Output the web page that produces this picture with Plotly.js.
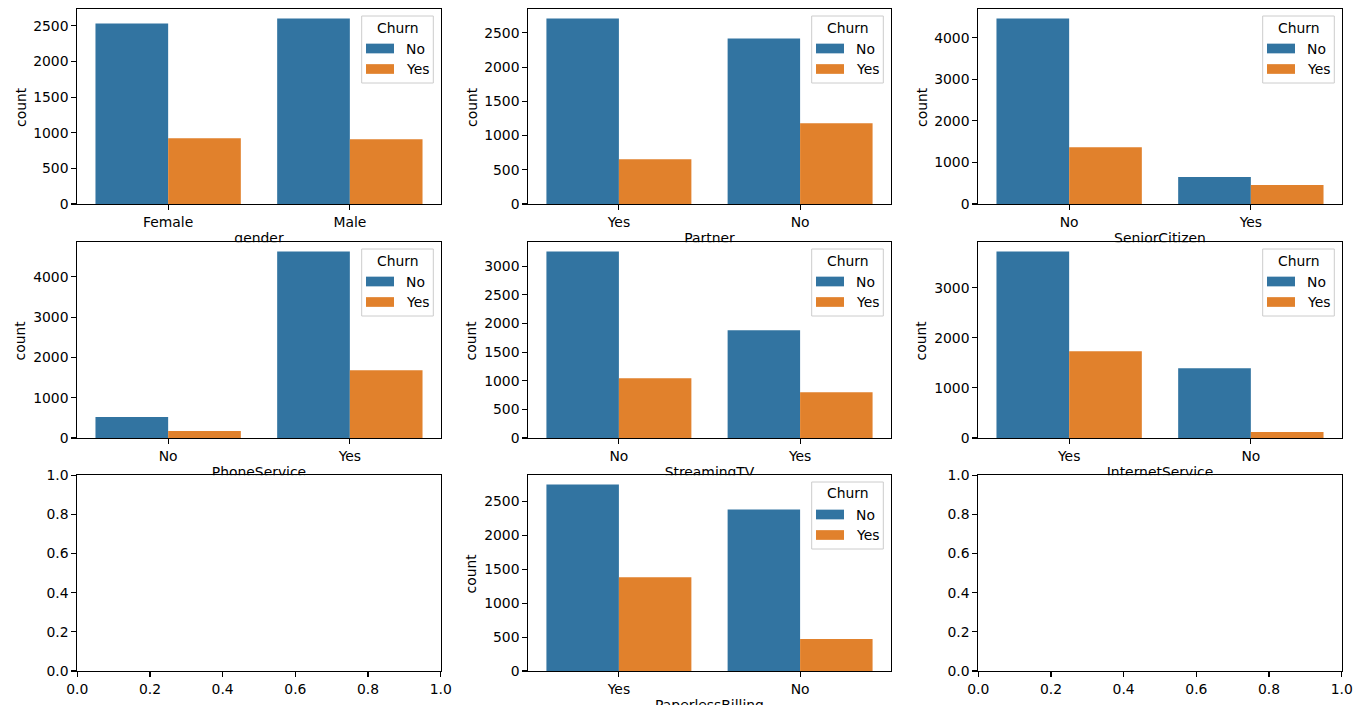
<!DOCTYPE html>
<html><head><meta charset="utf-8">
<script src="https://cdn.plot.ly/plotly-3.0.1.min.js"></script>
<style>html,body{margin:0;padding:0;background:#fff;} #chart{width:1366px;height:705px;}</style>
</head><body><div id="chart"></div>
<script>
// ---- data ----
const hueLabels = ["No", "Yes"];
const legendTitle = "Churn";
const yLabel = "count";

const genderCats = ["Female", "Male"];
const genderNo = [2533, 2603];
const genderYes = [924, 909];

const partnerCats = ["Yes", "No"];
const partnerNo = [2709, 2417];
const partnerYes = [655, 1180];

const seniorCats = ["No", "Yes"];
const seniorNo = [4464, 648];
const seniorYes = [1368, 456];

const phoneCats = ["No", "Yes"];
const phoneNo = [520, 4627];
const phoneYes = [173, 1682];

const streamCats = ["No", "Yes"];
const streamNo = [3255, 1880];
const streamYes = [1044, 801];

const internetCats = ["Yes", "No"];
const internetNo = [3723, 1394];
const internetYes = [1732, 119];

const paperCats = ["Yes", "No"];
const paperNo = [2750, 2382];
const paperYes = [1382, 471];

const emptyTicks = [0, 0.2, 0.4, 0.6, 0.8, 1.0];

// ---- layout geometry (pixels) ----
const W = 1366, H = 705;
const colLeft = [77.3, 528.3, 978.3], colRight = [440.7, 890.7, 1341.7];
const rowTop = [9.3, 242.3, 475.3], rowBottom = [204, 438, 671];
const px2x = p => p / W;
const px2y = p => 1 - p / H;
const FONT = "DejaVu Sans";
const FS = 13.9;
const colors = ["#3274a1", "#e1812c"];

const panels = [
  {row:0, col:0, cats:genderCats, no:genderNo, yes:genderYes, label:"gender", dtick:500},
  {row:0, col:1, cats:partnerCats, no:partnerNo, yes:partnerYes, label:"Partner", dtick:500},
  {row:0, col:2, cats:seniorCats, no:seniorNo, yes:seniorYes, label:"SeniorCitizen", dtick:1000},
  {row:1, col:0, cats:phoneCats, no:phoneNo, yes:phoneYes, label:"PhoneService", dtick:1000},
  {row:1, col:1, cats:streamCats, no:streamNo, yes:streamYes, label:"StreamingTV", dtick:500},
  {row:1, col:2, cats:internetCats, no:internetNo, yes:internetYes, label:"InternetService", dtick:1000},
  {row:2, col:0, empty:true},
  {row:2, col:1, cats:paperCats, no:paperNo, yes:paperYes, label:"PaperlessBilling", dtick:500},
  {row:2, col:2, empty:true}
];

const axisBase = {
  showline:true, linecolor:"#000", linewidth:1.1, mirror:true,
  ticks:"outside", ticklen:4.9, tickwidth:1.1, tickcolor:"#000",
  showgrid:false, zeroline:false, fixedrange:true,
  tickfont:{family:FONT, size:FS, color:"#000"}
};

const traces = [];
const layout = {
  width:W, height:H, margin:{l:0, r:0, t:0, b:0, pad:0},
  paper_bgcolor:"#fff", plot_bgcolor:"#fff",
  showlegend:false, barmode:"group", bargap:0.2, bargroupgap:0,
  font:{family:FONT, size:FS, color:"#000"},
  shapes:[], annotations:[]
};

panels.forEach((p, idx) => {
  const n = idx + 1;
  const L = colLeft[p.col], R = colRight[p.col], T = rowTop[p.row], B = rowBottom[p.row];
  const xd = [px2x(L), px2x(R)], yd = [px2y(B), px2y(T)];
  const xk = "xaxis" + n, yk = "yaxis" + n;
  if (p.empty) {
    layout[xk] = Object.assign({}, axisBase, {domain:xd, anchor:"y"+n, range:[0,1], tickvals:emptyTicks, tickformat:".1f"});
    layout[yk] = Object.assign({}, axisBase, {domain:yd, anchor:"x"+n, range:[0,1], tickvals:emptyTicks, tickformat:".1f"});
    // invisible trace to create the subplot
    traces.push({type:"scatter", x:[], y:[], xaxis:"x"+n, yaxis:"y"+n, hoverinfo:"skip"});
    return;
  }
  const ymax = Math.max(...p.no, ...p.yes) * 1.05;
  layout[xk] = Object.assign({}, axisBase, {domain:xd, anchor:"y"+n, type:"category", range:[-0.5, 1.5]});
  layout[yk] = Object.assign({}, axisBase, {domain:yd, anchor:"x"+n, range:[0, ymax], tick0:0, dtick:p.dtick});
  [p.no, p.yes].forEach((vals, h) => {
    traces.push({type:"bar", x:p.cats, y:vals, name:hueLabels[h], xaxis:"x"+n, yaxis:"y"+n,
      marker:{color:colors[h], line:{width:0}}, hoverinfo:"skip"});
  });
  // y-axis title
  layout.annotations.push({xref:"paper", yref:"paper", x:px2x(L-57), y:px2y((T+B)/2),
    text:yLabel, textangle:-90, showarrow:false, xanchor:"center", yanchor:"middle",
    font:{family:FONT, size:FS, color:"#000"}});
  // x-axis title, clipped by the next row like in the reference
  const m = n + 9;
  const clipBottom = (p.row < 2) ? rowTop[p.row+1] : H;
  const hh = clipBottom - B;
  layout["xaxis"+m] = {visible:false, domain:xd, anchor:"y"+m, range:[0,1], fixedrange:true};
  layout["yaxis"+m] = {visible:false, domain:[px2y(clipBottom), px2y(B)], anchor:"x"+m, range:[hh, 0], fixedrange:true};
  traces.push({type:"scatter", mode:"text", x:[0.5], y:[35.5], text:[p.label], xaxis:"x"+m, yaxis:"y"+m,
    textposition:"middle center", cliponaxis:true, hoverinfo:"skip",
    textfont:{family:FONT, size:FS, color:"#000"}});
  // legend box
  layout.shapes.push({type:"rect", xref:"paper", yref:"paper", layer:"above",
    x0:px2x(R-79), x1:px2x(R-7.4), y0:px2y(T+73.7), y1:px2y(T+6.7),
    line:{color:"#cccccc", width:1}, fillcolor:"rgba(255,255,255,0.8)"});
  layout.annotations.push({xref:"paper", yref:"paper", x:px2x(R-43.2), y:px2y(T+18.2),
    text:legendTitle, showarrow:false, xanchor:"center", yanchor:"middle",
    font:{family:FONT, size:FS, color:"#000"}});
  const rowsY = [39.2, 59.7];
  hueLabels.forEach((lab, h) => {
    layout.shapes.push({type:"rect", xref:"paper", yref:"paper", layer:"above",
      x0:px2x(R-74.7), x1:px2x(R-46.7), y0:px2y(T+rowsY[h]+4.85), y1:px2y(T+rowsY[h]-4.85),
      line:{width:0}, fillcolor:colors[h]});
    layout.annotations.push({xref:"paper", yref:"paper", x:px2x(R-36.7), y:px2y(T+rowsY[h]),
      text:lab, showarrow:false, xanchor:"left", yanchor:"middle",
      font:{family:FONT, size:FS, color:"#000"}});
  });
});

Plotly.newPlot("chart", traces, layout, {staticPlot:true, displayModeBar:false});
</script>
</body></html>
